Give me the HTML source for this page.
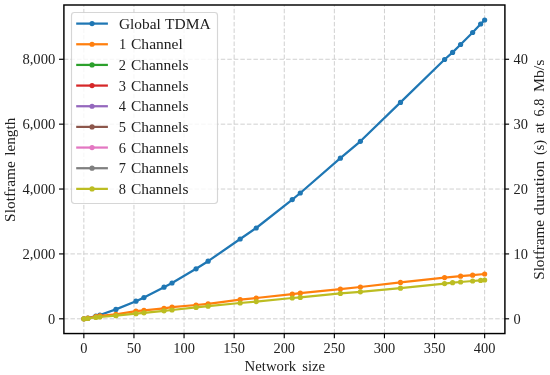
<!DOCTYPE html>
<html><head><meta charset="utf-8"><title>Slotframe length</title>
<style>html,body{margin:0;padding:0;background:#fff;}svg{display:block;}text{font-family:"Liberation Serif",serif;font-size:14.4px;fill:#202020;}</style>
</head><body>
<svg width="550" height="375" viewBox="0 0 550 375">
<rect x="0" y="0" width="550" height="375" fill="#ffffff"/>
<g stroke="#d0d0d0" stroke-width="1.0" stroke-dasharray="4.5,2.035" fill="none">
<path d="M83.85 333.55V5.00"/>
<path d="M133.95 333.55V5.00"/>
<path d="M184.05 333.55V5.00"/>
<path d="M234.15 333.55V5.00"/>
<path d="M284.25 333.55V5.00"/>
<path d="M334.35 333.55V5.00"/>
<path d="M384.45 333.55V5.00"/>
<path d="M434.55 333.55V5.00"/>
<path d="M484.65 333.55V5.00"/>
<path d="M63.90 318.80H504.90"/>
<path d="M63.90 253.92H504.90"/>
<path d="M63.90 189.04H504.90"/>
<path d="M63.90 124.16H504.90"/>
<path d="M63.90 59.28H504.90"/>
</g>
<clipPath id="ax"><rect x="63.9" y="5.0" width="441.0" height="328.55"/></clipPath>
<g clip-path="url(#ax)">
<g stroke="#1f77b4" fill="#1f77b4">
<polyline fill="none" stroke-width="2.25" stroke-linejoin="round" points="83.85,318.80 87.86,318.20 95.87,316.20 99.88,315.00 115.91,309.40 135.95,301.20 143.97,297.60 164.01,287.20 172.03,283.00 196.07,268.80 208.10,261.20 240.16,239.00 256.19,228.00 292.27,199.60 300.28,193.00 340.36,158.20 360.40,141.30 400.48,102.40 444.57,59.50 452.59,52.40 460.60,44.50 472.63,32.50 480.64,24.00 484.65,20.00"/>
<circle cx="83.85" cy="318.80" r="2.6" stroke="none"/>
<circle cx="87.86" cy="318.20" r="2.6" stroke="none"/>
<circle cx="95.87" cy="316.20" r="2.6" stroke="none"/>
<circle cx="99.88" cy="315.00" r="2.6" stroke="none"/>
<circle cx="115.91" cy="309.40" r="2.6" stroke="none"/>
<circle cx="135.95" cy="301.20" r="2.6" stroke="none"/>
<circle cx="143.97" cy="297.60" r="2.6" stroke="none"/>
<circle cx="164.01" cy="287.20" r="2.6" stroke="none"/>
<circle cx="172.03" cy="283.00" r="2.6" stroke="none"/>
<circle cx="196.07" cy="268.80" r="2.6" stroke="none"/>
<circle cx="208.10" cy="261.20" r="2.6" stroke="none"/>
<circle cx="240.16" cy="239.00" r="2.6" stroke="none"/>
<circle cx="256.19" cy="228.00" r="2.6" stroke="none"/>
<circle cx="292.27" cy="199.60" r="2.6" stroke="none"/>
<circle cx="300.28" cy="193.00" r="2.6" stroke="none"/>
<circle cx="340.36" cy="158.20" r="2.6" stroke="none"/>
<circle cx="360.40" cy="141.30" r="2.6" stroke="none"/>
<circle cx="400.48" cy="102.40" r="2.6" stroke="none"/>
<circle cx="444.57" cy="59.50" r="2.6" stroke="none"/>
<circle cx="452.59" cy="52.40" r="2.6" stroke="none"/>
<circle cx="460.60" cy="44.50" r="2.6" stroke="none"/>
<circle cx="472.63" cy="32.50" r="2.6" stroke="none"/>
<circle cx="480.64" cy="24.00" r="2.6" stroke="none"/>
<circle cx="484.65" cy="20.00" r="2.6" stroke="none"/>
</g>
<g stroke="#ff7f0e" fill="#ff7f0e">
<polyline fill="none" stroke-width="2.25" stroke-linejoin="round" points="83.85,318.80 87.86,318.20 95.87,316.50 99.88,315.90 115.91,314.40 135.95,311.10 143.97,310.40 164.01,308.40 172.03,307.20 196.07,305.00 208.10,303.80 240.16,299.60 256.19,298.00 292.27,294.20 300.28,293.20 340.36,289.10 360.40,287.00 400.48,282.40 444.57,277.60 460.60,276.20 472.63,275.20 484.65,274.00"/>
<circle cx="83.85" cy="318.80" r="2.6" stroke="none"/>
<circle cx="87.86" cy="318.20" r="2.6" stroke="none"/>
<circle cx="95.87" cy="316.50" r="2.6" stroke="none"/>
<circle cx="99.88" cy="315.90" r="2.6" stroke="none"/>
<circle cx="115.91" cy="314.40" r="2.6" stroke="none"/>
<circle cx="135.95" cy="311.10" r="2.6" stroke="none"/>
<circle cx="143.97" cy="310.40" r="2.6" stroke="none"/>
<circle cx="164.01" cy="308.40" r="2.6" stroke="none"/>
<circle cx="172.03" cy="307.20" r="2.6" stroke="none"/>
<circle cx="196.07" cy="305.00" r="2.6" stroke="none"/>
<circle cx="208.10" cy="303.80" r="2.6" stroke="none"/>
<circle cx="240.16" cy="299.60" r="2.6" stroke="none"/>
<circle cx="256.19" cy="298.00" r="2.6" stroke="none"/>
<circle cx="292.27" cy="294.20" r="2.6" stroke="none"/>
<circle cx="300.28" cy="293.20" r="2.6" stroke="none"/>
<circle cx="340.36" cy="289.10" r="2.6" stroke="none"/>
<circle cx="360.40" cy="287.00" r="2.6" stroke="none"/>
<circle cx="400.48" cy="282.40" r="2.6" stroke="none"/>
<circle cx="444.57" cy="277.60" r="2.6" stroke="none"/>
<circle cx="460.60" cy="276.20" r="2.6" stroke="none"/>
<circle cx="472.63" cy="275.20" r="2.6" stroke="none"/>
<circle cx="484.65" cy="274.00" r="2.6" stroke="none"/>
</g>
<g stroke="#bcbd22" fill="#bcbd22">
<polyline fill="none" stroke-width="2.25" stroke-linejoin="round" points="83.85,318.80 87.86,318.50 95.87,317.40 99.88,317.00 115.91,315.70 135.95,313.70 143.97,312.80 164.01,310.80 172.03,310.00 196.07,307.40 208.10,306.20 240.16,303.00 256.19,301.60 292.27,298.00 300.28,297.40 340.36,293.40 360.40,291.80 400.48,288.20 444.57,283.60 452.59,282.70 460.60,282.00 472.63,281.00 480.64,280.40 484.65,280.00"/>
<circle cx="83.85" cy="318.80" r="2.6" stroke="none"/>
<circle cx="87.86" cy="318.50" r="2.6" stroke="none"/>
<circle cx="95.87" cy="317.40" r="2.6" stroke="none"/>
<circle cx="99.88" cy="317.00" r="2.6" stroke="none"/>
<circle cx="115.91" cy="315.70" r="2.6" stroke="none"/>
<circle cx="135.95" cy="313.70" r="2.6" stroke="none"/>
<circle cx="143.97" cy="312.80" r="2.6" stroke="none"/>
<circle cx="164.01" cy="310.80" r="2.6" stroke="none"/>
<circle cx="172.03" cy="310.00" r="2.6" stroke="none"/>
<circle cx="196.07" cy="307.40" r="2.6" stroke="none"/>
<circle cx="208.10" cy="306.20" r="2.6" stroke="none"/>
<circle cx="240.16" cy="303.00" r="2.6" stroke="none"/>
<circle cx="256.19" cy="301.60" r="2.6" stroke="none"/>
<circle cx="292.27" cy="298.00" r="2.6" stroke="none"/>
<circle cx="300.28" cy="297.40" r="2.6" stroke="none"/>
<circle cx="340.36" cy="293.40" r="2.6" stroke="none"/>
<circle cx="360.40" cy="291.80" r="2.6" stroke="none"/>
<circle cx="400.48" cy="288.20" r="2.6" stroke="none"/>
<circle cx="444.57" cy="283.60" r="2.6" stroke="none"/>
<circle cx="452.59" cy="282.70" r="2.6" stroke="none"/>
<circle cx="460.60" cy="282.00" r="2.6" stroke="none"/>
<circle cx="472.63" cy="281.00" r="2.6" stroke="none"/>
<circle cx="480.64" cy="280.40" r="2.6" stroke="none"/>
<circle cx="484.65" cy="280.00" r="2.6" stroke="none"/>
</g>
</g>
<g stroke="#000" stroke-width="1.15" fill="none">
<path d="M83.85 333.55v4.75"/>
<path d="M133.95 333.55v4.75"/>
<path d="M184.05 333.55v4.75"/>
<path d="M234.15 333.55v4.75"/>
<path d="M284.25 333.55v4.75"/>
<path d="M334.35 333.55v4.75"/>
<path d="M384.45 333.55v4.75"/>
<path d="M434.55 333.55v4.75"/>
<path d="M484.65 333.55v4.75"/>
<path d="M63.90 318.80h-4.85"/>
<path d="M504.90 318.80h4.2"/>
<path d="M63.90 253.92h-4.85"/>
<path d="M504.90 253.92h4.2"/>
<path d="M63.90 189.04h-4.85"/>
<path d="M504.90 189.04h4.2"/>
<path d="M63.90 124.16h-4.85"/>
<path d="M504.90 124.16h4.2"/>
<path d="M63.90 59.28h-4.85"/>
<path d="M504.90 59.28h4.2"/>
</g>
<rect x="63.9" y="5.0" width="441.0" height="328.55" fill="none" stroke="#000" stroke-width="1.45"/>
<text x="83.85" y="353" text-anchor="middle">0</text>
<text x="133.95" y="353" text-anchor="middle">50</text>
<text x="184.05" y="353" text-anchor="middle">100</text>
<text x="234.15" y="353" text-anchor="middle">150</text>
<text x="284.25" y="353" text-anchor="middle">200</text>
<text x="334.35" y="353" text-anchor="middle">250</text>
<text x="384.45" y="353" text-anchor="middle">300</text>
<text x="434.55" y="353" text-anchor="middle">350</text>
<text x="484.65" y="353" text-anchor="middle">400</text>
<text x="55.3" y="323.60" text-anchor="end">0</text>
<text x="513.6" y="323.60">0</text>
<text x="55.3" y="258.72" text-anchor="end" textLength="32.9" lengthAdjust="spacingAndGlyphs">2,000</text>
<text x="513.6" y="258.72">10</text>
<text x="55.3" y="193.84" text-anchor="end" textLength="32.9" lengthAdjust="spacingAndGlyphs">4,000</text>
<text x="513.6" y="193.84">20</text>
<text x="55.3" y="128.96" text-anchor="end" textLength="32.9" lengthAdjust="spacingAndGlyphs">6,000</text>
<text x="513.6" y="128.96">30</text>
<text x="55.3" y="64.08" text-anchor="end" textLength="32.9" lengthAdjust="spacingAndGlyphs">8,000</text>
<text x="513.6" y="64.08">40</text>
<text y="371.2"><tspan x="244.6" textLength="51.6" lengthAdjust="spacingAndGlyphs">Network</tspan><tspan> </tspan><tspan x="302.2" textLength="22.8" lengthAdjust="spacingAndGlyphs">size</tspan></text>
<text transform="translate(14.7,0) rotate(-90)"><tspan x="-221.90" textLength="60.80" lengthAdjust="spacingAndGlyphs">Slotframe</tspan><tspan> </tspan><tspan x="-155.80" textLength="38.10" lengthAdjust="spacingAndGlyphs">length</tspan></text>
<text transform="translate(543.5,0) rotate(-90)"><tspan x="-279.80" textLength="59.80" lengthAdjust="spacingAndGlyphs">Slotframe</tspan><tspan> </tspan><tspan x="-215.20" textLength="54.40" lengthAdjust="spacingAndGlyphs">duration</tspan><tspan> </tspan><tspan x="-155.10" textLength="15.20" lengthAdjust="spacingAndGlyphs">(s)</tspan><tspan> </tspan><tspan x="-133.60" textLength="10.90" lengthAdjust="spacingAndGlyphs">at</tspan><tspan> </tspan><tspan x="-116.40" textLength="17.80" lengthAdjust="spacingAndGlyphs">6.8</tspan><tspan> </tspan><tspan x="-92.10" textLength="32.50" lengthAdjust="spacingAndGlyphs">Mb/s</tspan></text>
<rect x="71.5" y="12.5" width="146" height="191" rx="2.9" ry="2.9" fill="#ffffff" fill-opacity="0.8" stroke="#cccccc" stroke-opacity="0.8" stroke-width="1.15"/>
<path d="M76.2 23.60H107.9" stroke="#1f77b4" stroke-width="2.25" fill="none"/>
<circle cx="92.05" cy="23.60" r="2.6" fill="#1f77b4"/>
<text y="28.60"><tspan x="119.0" textLength="41.8" lengthAdjust="spacingAndGlyphs">Global</tspan><tspan> </tspan><tspan x="165.0" textLength="45.6" lengthAdjust="spacingAndGlyphs">TDMA</tspan></text>
<path d="M76.2 44.26H107.9" stroke="#ff7f0e" stroke-width="2.25" fill="none"/>
<circle cx="92.05" cy="44.26" r="2.6" fill="#ff7f0e"/>
<text y="49.26"><tspan x="118.9">1</tspan><tspan> </tspan><tspan x="131.0" textLength="51.8" lengthAdjust="spacingAndGlyphs">Channel</tspan></text>
<path d="M76.2 64.92H107.9" stroke="#2ca02c" stroke-width="2.25" fill="none"/>
<circle cx="92.05" cy="64.92" r="2.6" fill="#2ca02c"/>
<text y="69.92"><tspan x="118.7">2</tspan><tspan> </tspan><tspan x="131.0" textLength="57.4" lengthAdjust="spacingAndGlyphs">Channels</tspan></text>
<path d="M76.2 85.58H107.9" stroke="#d62728" stroke-width="2.25" fill="none"/>
<circle cx="92.05" cy="85.58" r="2.6" fill="#d62728"/>
<text y="90.58"><tspan x="118.7">3</tspan><tspan> </tspan><tspan x="131.0" textLength="57.4" lengthAdjust="spacingAndGlyphs">Channels</tspan></text>
<path d="M76.2 106.24H107.9" stroke="#9467bd" stroke-width="2.25" fill="none"/>
<circle cx="92.05" cy="106.24" r="2.6" fill="#9467bd"/>
<text y="111.24"><tspan x="118.7">4</tspan><tspan> </tspan><tspan x="131.0" textLength="57.4" lengthAdjust="spacingAndGlyphs">Channels</tspan></text>
<path d="M76.2 126.90H107.9" stroke="#8c564b" stroke-width="2.25" fill="none"/>
<circle cx="92.05" cy="126.90" r="2.6" fill="#8c564b"/>
<text y="131.90"><tspan x="118.7">5</tspan><tspan> </tspan><tspan x="131.0" textLength="57.4" lengthAdjust="spacingAndGlyphs">Channels</tspan></text>
<path d="M76.2 147.56H107.9" stroke="#e377c2" stroke-width="2.25" fill="none"/>
<circle cx="92.05" cy="147.56" r="2.6" fill="#e377c2"/>
<text y="152.56"><tspan x="118.7">6</tspan><tspan> </tspan><tspan x="131.0" textLength="57.4" lengthAdjust="spacingAndGlyphs">Channels</tspan></text>
<path d="M76.2 168.22H107.9" stroke="#7f7f7f" stroke-width="2.25" fill="none"/>
<circle cx="92.05" cy="168.22" r="2.6" fill="#7f7f7f"/>
<text y="173.22"><tspan x="118.7">7</tspan><tspan> </tspan><tspan x="131.0" textLength="57.4" lengthAdjust="spacingAndGlyphs">Channels</tspan></text>
<path d="M76.2 188.88H107.9" stroke="#bcbd22" stroke-width="2.25" fill="none"/>
<circle cx="92.05" cy="188.88" r="2.6" fill="#bcbd22"/>
<text y="193.88"><tspan x="118.7">8</tspan><tspan> </tspan><tspan x="131.0" textLength="57.4" lengthAdjust="spacingAndGlyphs">Channels</tspan></text>
</svg>
</body></html>
